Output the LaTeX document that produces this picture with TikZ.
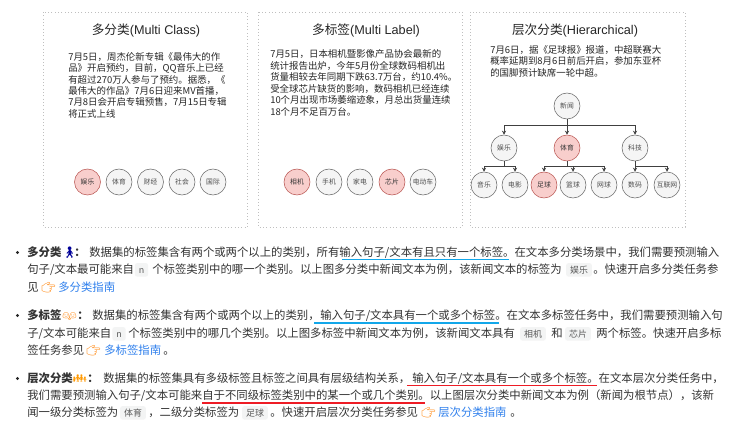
\documentclass[tikz,border=0pt]{standalone}
\usepackage{fontspec}
\setmainfont{Noto Sans CJK SC}
\newfontfamily\latinf{Liberation Sans}
\newfontfamily\emof{Noto Emoji}
\usetikzlibrary{arrows.meta}
\definecolor{txtc}{HTML}{333333}
\definecolor{linkc}{HTML}{2F80ED}
\definecolor{chipc}{HTML}{F3F4F4}
\definecolor{blueu}{HTML}{12A7EA}
\definecolor{redu}{HTML}{EE1C25}
\definecolor{hotd}{HTML}{B85450}
\definecolor{hotf}{HTML}{F8CECC}
\tikzset{
  x=0.75pt,y=-0.75pt,
  panel/.style={draw=black!25,line width=0.5pt,dotted},
  ptitle/.style={anchor=center,inner sep=0,font=\fontsize{9.5}{11}\selectfont,text=black!85},
  ptext/.style={anchor=base west,inner sep=0,font=\fontsize{7.08}{8}\selectfont,text=black!85},
  lab/.style={circle,draw=black!60,fill=black!4,line width=0.4pt,minimum size=19.5pt,inner sep=0,font=\fontsize{5.1}{6}\selectfont,text=black!70},
  hot/.style={lab,draw=hotd,fill=hotf,text=black!80},
  arr/.style={draw=black!75,line width=0.45pt,-{Stealth[length=3pt,width=3pt]}},
  body/.style={anchor=base west,inner sep=0,font=\fontsize{8.53}{10}\selectfont,text=txtc},
  blink/.style={body,text=linkc},
  emo/.style={body,font=\fontsize{8.5}{10}\selectfont\emof},
  chip/.style={anchor=base,fill=chipc,rounded corners=2pt,inner xsep=3pt,inner ysep=1.3pt,text height=6.2pt,text depth=1.5pt,font=\fontsize{6.7}{8}\selectfont,text=black!65},
  ul/.style={line width=1pt},
}
\begin{document}
\begin{tikzpicture}
\useasboundingbox (0,0) rectangle (750,433);
\fill[white] (0,0) rectangle (750,433);
% panels
\draw[panel] (43,12) rectangle (247.5,227);
\draw[panel] (258,12) rectangle (462,227);
\draw[panel] (470,12) rectangle (685,227);
\node[ptitle] (t1) at (146,30.5) {多分类{\latinf(Multi Class)}};
\node[ptitle] (t2) at (366,30.5) {多标签{\latinf(Multi Label)}};
\node[ptitle] (t3) at (575,30.5) {层次分类{\latinf(Hierarchical)}};
% panel 1 text
\node[ptext] (p1a) at (68,60) {7月5日，周杰伦新专辑《最伟大的作};
\node[ptext] (p1b) at (68,71.5) {品》开启预约，目前，QQ音乐上已经};
\node[ptext] (p1c) at (68,83) {有超过270万人参与了预约。据悉，《};
\node[ptext] (p1d) at (68,94.5) {最伟大的作品》7月6日迎来MV首播，};
\node[ptext] (p1e) at (68,105.5) {7月8日会开启专辑预售，7月15日专辑};
\node[ptext] (p1f) at (68,117) {将正式上线};
% panel 2 text
\node[ptext] (p2a) at (270,57.5) {7月5日，日本相机暨影像产品协会最新的};
\node[ptext] (p2b) at (270,69) {统计报告出炉，今年5月份全球数码相机出};
\node[ptext] (p2c) at (270,80.5) {货量相较去年同期下跌63.7万台，约10.4\%。};
\node[ptext] (p2d) at (270,92) {受全球芯片缺货的影响，数码相机已经连续};
\node[ptext] (p2e) at (270,103.5) {10个月出现市场萎缩迹象，月总出货量连续};
\node[ptext] (p2f) at (270,115) {18个月不足百万台。};
% panel 3 text
\node[ptext] (p3a) at (490,53) {7月6日，据《足球报》报道，中超联赛大};
\node[ptext] (p3b) at (490,64.5) {概率延期到8月6日前后开启，参加东亚杯};
\node[ptext] (p3c) at (490,76) {的国脚预计缺席一轮中超。};
% panel 1 circles
\node[hot] (a1) at (87.5,182) {娱乐};
\node[lab] (a2) at (119,182) {体育};
\node[lab] (a3) at (150.5,182) {财经};
\node[lab] (a4) at (182,182) {社会};
\node[lab] (a5) at (213,182) {国际};
% panel 2 circles
\node[hot] (b1) at (297,182) {相机};
\node[lab] (b2) at (329,182) {手机};
\node[lab] (b3) at (360,182) {家电};
\node[hot] (b4) at (392,182) {芯片};
\node[lab] (b5) at (423,182) {电动车};
% panel 3 tree
\node[lab] (news) at (567,106) {新闻};
\node[lab] (yl) at (504,148) {娱乐};
\node[hot] (ty) at (567,148) {体育};
\node[lab] (kj) at (635,148) {科技};
\node[lab] (c1) at (484,185) {音乐};
\node[lab] (c2) at (515,185) {电影};
\node[hot] (c3) at (544,185) {足球};
\node[lab] (c4) at (573,185) {篮球};
\node[lab] (c5) at (604,185) {网球};
\node[lab] (c6) at (635,185) {数码};
\node[lab] (c7) at (667,185) {互联网};
\coordinate (busa) at (567,125);
\coordinate (busb) at (504,166.5);
\coordinate (busc) at (567,166.5);
\coordinate (busd) at (635,166.5);
\draw[arr] (news.south) -- (ty.north);
\draw[arr] (busa) -| (yl.north);
\draw[arr] (busa) -| (kj.north);
\draw[arr] (yl.south) -- (busb) -| (c1.north);
\draw[arr] (busb) -| (c2.north);
\draw[arr] (ty.south) -- (busc) -| (c3.north);
\draw[arr] (busc) -| (c4.north);
\draw[arr] (busc) -| (c5.north);
\draw[arr] (kj.south) -- (c6.north);
\draw[arr] (busd) -| (c7.north);
% bullets
\fill[black!85] (17.5,252.5) circle (1.3pt) (17.5,315.5) circle (1.3pt) (17.5,378.5) circle (1.3pt);
% block 1
\node[body] (l1a) at (27,256) {\textbf{多分类}};
\node[emo,text=blue!60!black] (l1b) at (62,256) {🚶};
\node[body] (l1c) at (74,256) {\textbf{：}};
\node[body] (l1d) at (89,256) {数据集的标签集含有两个或两个以上的类别，所有输入句子/文本有且只有一个标签。在文本多分类场景中，我们需要预测输入};
\node[body] (l2a) at (27,273) {句子/文本最可能来自};
\node[chip] (l2b) at (141.5,273) {n};
\node[body] (l2c) at (152,273) {个标签类别中的哪一个类别。以上图多分类中新闻文本为例，该新闻文本的标签为};
\node[chip] (l2d) at (579,273) {娱乐};
\node[body] (l2e) at (593,273) {。快速开启多分类任务参};
\node[body] (l3a) at (27,291) {见};
\node[emo,text=orange] (l3b) at (41,291) {👉};
\node[blink] (l3c) at (58,291) {多分类指南};
\draw[ul,blueu] (342,259.5) -- (509,259.5);
% block 2
\node[body] (m1a) at (27,319) {\textbf{多标签}};
\node[emo,text=orange] (m1b) at (62,319) {👫};
\node[body] (m1c) at (77,319) {\textbf{：}};
\node[body] (m1d) at (92,319) {数据集的标签集含有两个或两个以上的类别，};
\node[body] (m1e) at (320,319) {输入句子/文本具有一个或多个标签。在文本多标签任务中，我们需要预测输入句};
\node[body] (m2a) at (27,337) {子/文本可能来自};
\node[chip] (m2b) at (119,337) {n};
\node[body] (m2c) at (128,337) {个标签类别中的哪几个类别。以上图多标签中新闻文本为例，该新闻文本具有};
\node[chip] (m2d) at (533,337) {相机};
\node[body] (m2e) at (551,337) {和};
\node[chip] (m2f) at (578,337) {芯片};
\node[body] (m2g) at (596,337) {两个标签。快速开启多标};
\node[body] (m3a) at (27,354) {签任务参见};
\node[emo,text=orange] (m3b) at (86,354) {👉};
\node[blink] (m3c) at (104,354) {多标签指南};
\node[body] (m3d) at (163,354) {。};
\draw[ul,blueu] (314,323) -- (499,323);
% block 3
\node[body] (n1a) at (27,382) {\textbf{层次分类}};
\node[emo,text=orange!80!yellow] (n1b) at (72,382) {👪};
\node[body] (n1c) at (87,382) {\textbf{：}};
\node[body] (n1d) at (103,382) {数据集的标签集具有多级标签且标签之间具有层级结构关系，};
\node[body] (n1e) at (412,382) {输入句子/文本具有一个或多个标签。在文本层次分类任务中，};
\node[body] (n2a) at (27,399) {我们需要预测输入句子/文本可能来自于不同级标签类别中的某一个或几个类别。以上图层次分类中新闻文本为例（新闻为根节点），该新};
\node[body] (n3a) at (27,416) {闻一级分类标签为};
\node[chip] (n3b) at (133,416) {体育};
\node[body] (n3c) at (148,416) {，二级分类标签为};
\node[chip] (n3d) at (255,416) {足球};
\node[body] (n3e) at (270,416) {。快速开启层次分类任务参见};
\node[emo,text=orange] (n3f) at (421,416) {👉};
\node[blink] (n3g) at (438,416) {层次分类指南};
\node[body] (n3h) at (510,416) {。};
\draw[ul,redu] (407,385.5) -- (597,385.5);
\draw[ul,redu] (202,403) -- (425,403);
\end{tikzpicture}
\end{document}
